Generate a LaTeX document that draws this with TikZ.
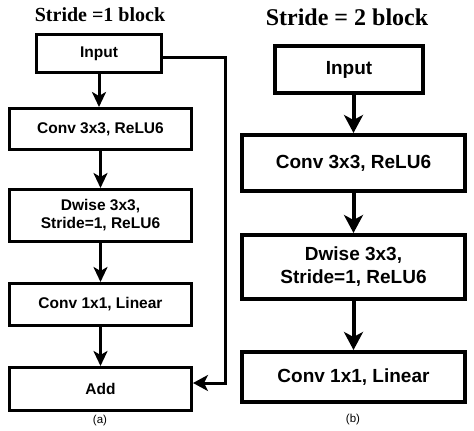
\documentclass[tikz,border=0pt]{standalone}
\usepackage{fontspec}
\setmainfont{Liberation Sans}
\newfontfamily\titlefont{Liberation Serif}
\usetikzlibrary{arrows.meta}
\tikzset{
  blockA/.style={draw, line width=3pt, font=\bfseries\fontsize{15.5}{18}\selectfont, align=center, inner sep=0pt},
  blockB/.style={draw, line width=4pt, font=\bfseries\fontsize{19}{23}\selectfont, align=center, inner sep=0pt},
  flowA/.style={line width=3pt, -{Stealth[length=15pt, width=14pt, inset=4pt]}},
  flowB/.style={line width=4pt, -{Stealth[length=18pt, width=19pt, inset=5pt]}},
}
\begin{document}
\begin{tikzpicture}[x=1pt, y=-1pt]
\useasboundingbox (0,0) rectangle (474,431);
% stride 1
\node[font=\titlefont\bfseries\fontsize{20}{22}\selectfont] (titleA) at (100,15) {Stride =1 block};
\node[blockA, minimum width=125pt, minimum height=38pt] (inA) at (99,53.5) {Input};
\node[blockA, minimum width=182pt, minimum height=41pt] (convA) at (100.5,129) {Conv 3x3, ReLU6};
\node[blockA, minimum width=182pt, minimum height=52pt] (dwA) at (100.5,215.5) {Dwise 3x3,\\Stride=1, ReLU6};
\node[blockA, minimum width=182pt, minimum height=42pt] (linA) at (100.5,304.5) {Conv 1x1, Linear};
\node[blockA, minimum width=182pt, minimum height=43pt] (addA) at (100.5,389) {Add};
\node[font=\fontsize{11.5}{13}\selectfont] (capA) at (100,421) {(a)};
\draw[flowA] (inA) -- (inA |- convA.north);
\draw[flowA] (convA) -- (dwA);
\draw[flowA] (dwA) -- (linA);
\draw[flowA] (linA) -- (addA);
\coordinate (skipA) at (225,57);
\draw[flowA, -{Stealth[length=15pt, width=16pt, inset=4pt]}, line join=miter] ([yshift=-3.5pt]inA.east) -- (skipA) |- ([yshift=6pt]addA.east);
% stride 2
\node[font=\titlefont\bfseries\fontsize{24}{26}\selectfont] (titleB) at (347,17) {Stride = 2 block};
\node[blockB, minimum width=148pt, minimum height=47pt] (inB) at (349,69.5) {Input};
\node[blockB, minimum width=223pt, minimum height=56pt] (convB) at (353.5,163) {Conv 3x3, ReLU6};
\node[blockB, minimum width=223pt, minimum height=64pt] (dwB) at (353.5,267) {Dwise 3x3,\\Stride=1, ReLU6};
\node[blockB, minimum width=223pt, minimum height=50pt] (linB) at (353.5,377) {Conv 1x1, Linear};
\node[font=\fontsize{11.5}{13}\selectfont] (capB) at (353,420) {(b)};
\draw[flowB] (convB |- inB.south) -- (convB.north);
\draw[flowB] (convB) -- (dwB);
\draw[flowB] (dwB) -- (linB);
\end{tikzpicture}
\end{document}
